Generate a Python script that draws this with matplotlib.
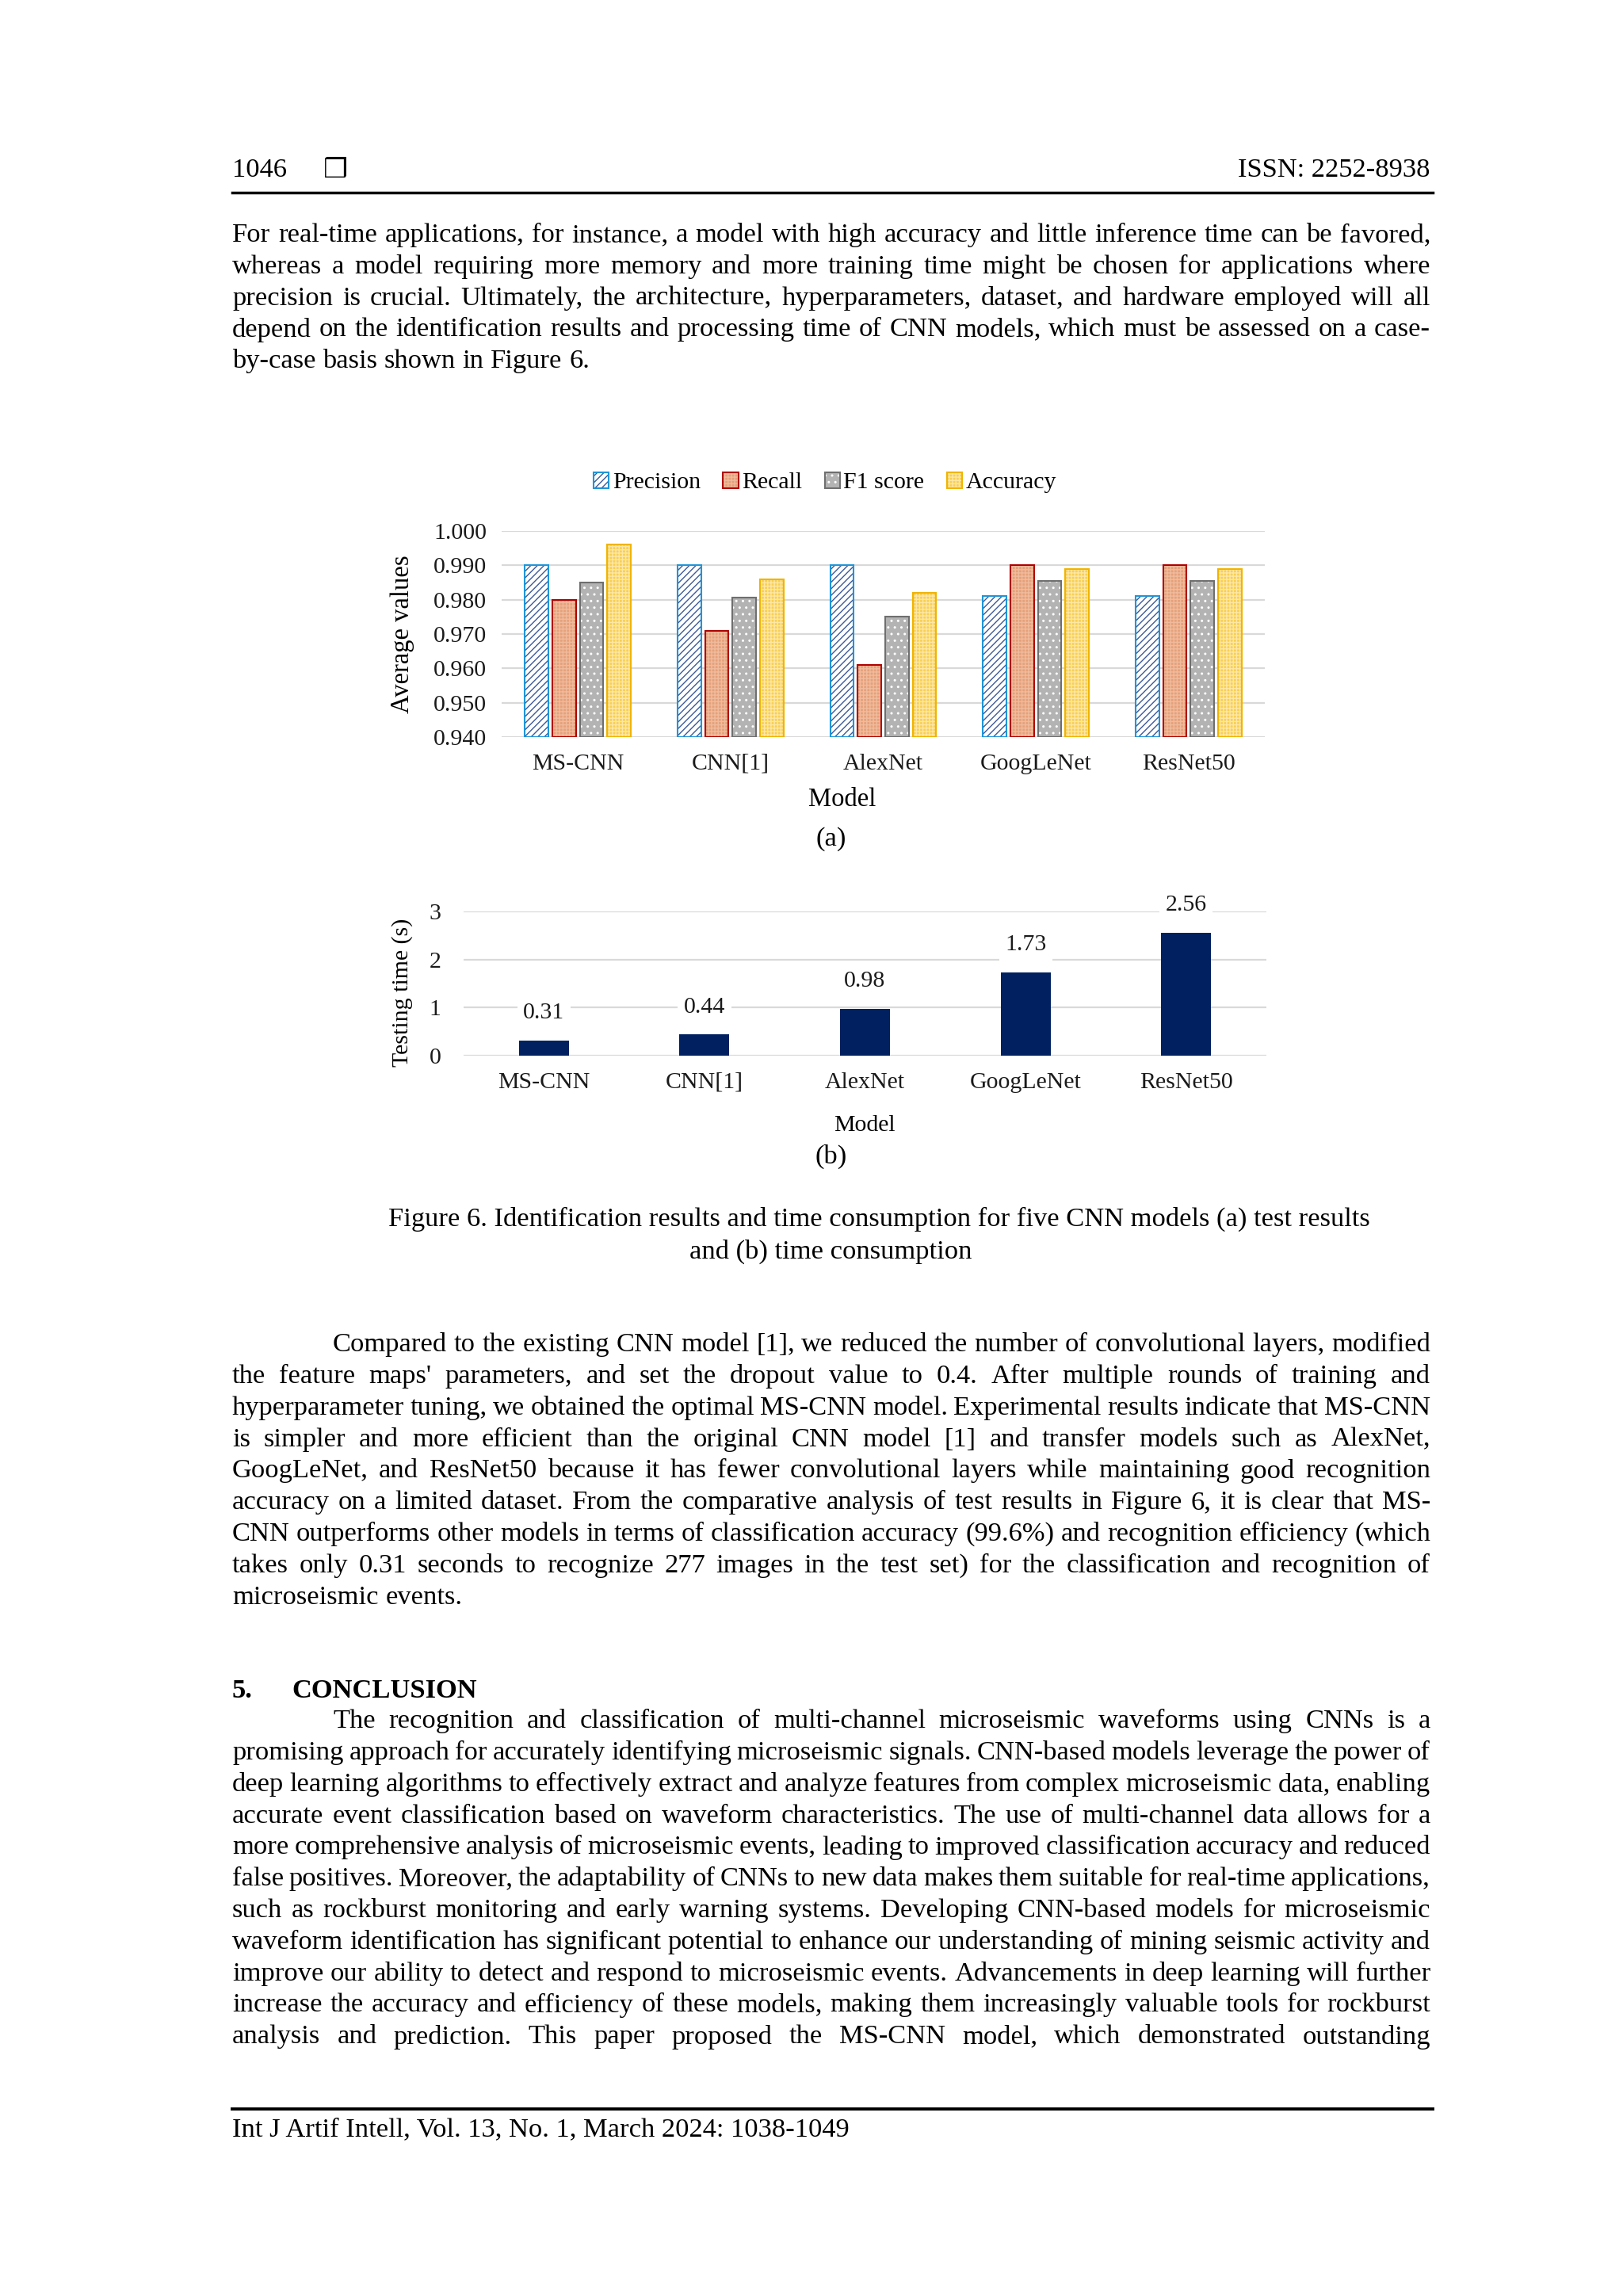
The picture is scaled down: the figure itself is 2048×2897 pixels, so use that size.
import matplotlib
matplotlib.use('Agg')
import matplotlib.pyplot as plt
from matplotlib.patches import Patch
from matplotlib.lines import Line2D
from matplotlib.legend_handler import HandlerTuple
from matplotlib.ticker import FormatStrFormatter
import numpy as np

# page size in pixels (saved at dpi 100)
W, H = 2048, 2897
SERIF = ['Liberation Serif', 'DejaVu Serif', 'DejaVu Sans']
BODY = 24.8
CHART = 21.5

# ---- chart data ----
models = ['MS-CNN', 'CNN[1]', 'AlexNet', 'GoogLeNet', 'ResNet50']
metric_names = ['Precision', 'Recall', 'F1 score', 'Accuracy']
precision = [0.990, 0.990, 0.990, 0.981, 0.981]
recall = [0.980, 0.971, 0.961, 0.990, 0.990]
f1_score = [0.985, 0.9805, 0.975, 0.9855, 0.9855]
accuracy = [0.996, 0.986, 0.982, 0.989, 0.989]
y_ticks_a = [0.940, 0.950, 0.960, 0.970, 0.980, 0.990, 1.000]

test_time = [0.31, 0.44, 0.98, 1.73, 2.56]
y_ticks_b = [0, 1, 2, 3]

# ---- page text ----
para1 = [
    "For real-time applications, for instance, a model with high accuracy and little inference time can be favored,",
    "whereas a model requiring more memory and more training time might be chosen for applications where",
    "precision is crucial. Ultimately, the architecture, hyperparameters, dataset, and hardware employed will all",
    "depend on the identification results and processing time of CNN models, which must be assessed on a case-",
    "by-case basis shown in Figure 6.",
]
para2 = [
    "Compared to the existing CNN model [1], we reduced the number of convolutional layers, modified",
    "the feature maps' parameters, and set the dropout value to 0.4. After multiple rounds of training and",
    "hyperparameter tuning, we obtained the optimal MS-CNN model. Experimental results indicate that MS-CNN",
    "is simpler and more efficient than the original CNN model [1] and transfer models such as AlexNet,",
    "GoogLeNet, and ResNet50 because it has fewer convolutional layers while maintaining good recognition",
    "accuracy on a limited dataset. From the comparative analysis of test results in Figure 6, it is clear that MS-",
    "CNN outperforms other models in terms of classification accuracy (99.6%) and recognition efficiency (which",
    "takes only 0.31 seconds to recognize 277 images in the test set) for the classification and recognition of",
    "microseismic events.",
]
para3 = [
    "The recognition and classification of multi-channel microseismic waveforms using CNNs is a",
    "promising approach for accurately identifying microseismic signals. CNN-based models leverage the power of",
    "deep learning algorithms to effectively extract and analyze features from complex microseismic data, enabling",
    "accurate event classification based on waveform characteristics. The use of multi-channel data allows for a",
    "more comprehensive analysis of microseismic events, leading to improved classification accuracy and reduced",
    "false positives. Moreover, the adaptability of CNNs to new data makes them suitable for real-time applications,",
    "such as rockburst monitoring and early warning systems. Developing CNN-based models for microseismic",
    "waveform identification has significant potential to enhance our understanding of mining seismic activity and",
    "improve our ability to detect and respond to microseismic events. Advancements in deep learning will further",
    "increase the accuracy and efficiency of these models, making them increasingly valuable tools for rockburst",
    "analysis and prediction. This paper proposed the MS-CNN model, which demonstrated outstanding",
]
caption = [
    "Figure 6. Identification results and time consumption for five CNN models (a) test results",
    "and (b) time consumption",
]

plt.rcParams['font.family'] = SERIF
plt.rcParams['hatch.linewidth'] = 1.0

fig = plt.figure(figsize=(W / 100, H / 100), dpi=100)
renderer = fig.canvas.get_renderer()

LEFT, RIGHT = 293, 1805


def fx(x):
    return x / W


def fy(y):
    return 1 - y / H


def axes_px(left, top, right, bottom):
    return fig.add_axes([left / W, 1 - bottom / H, (right - left) / W, (bottom - top) / H])


def text_width(s, size, weight='normal'):
    t = fig.text(0, 0, s, fontsize=size, family=SERIF, fontweight=weight)
    w = t.get_window_extent(renderer=renderer).width
    t.remove()
    return w


def draw_paragraph(lines, y0, step, indent=0, justify_last=False):
    # justified text: words placed one by one, gaps stretched to fill the line
    space = text_width("a a", BODY) - text_width("aa", BODY)
    for i, line in enumerate(lines):
        words = line.split(' ')
        x0 = LEFT + (indent if i == 0 else 0)
        widths = [text_width(w, BODY) for w in words]
        last = (i == len(lines) - 1)
        if (not last or justify_last) and len(words) > 1:
            gap = (RIGHT - x0 - sum(widths)) / (len(words) - 1)
        else:
            gap = space
        x = x0
        y = y0 + i * step
        for w, wd in zip(words, widths):
            fig.text(fx(x), fy(y), w, fontsize=BODY, ha='left', va='center')
            x += wd + gap


# ---- header / footer ----
fig.text(fx(LEFT), fy(215), "1046", fontsize=BODY, ha='left', va='center')
fig.text(fx(423), fy(215), "\u2752", fontsize=BODY, ha='center', va='center',
         family=['DejaVu Sans'], fontweight='bold')
fig.text(fx(RIGHT), fy(215), "ISSN: 2252-8938", fontsize=BODY, ha='right', va='center')
fig.add_artist(Line2D([fx(LEFT), fx(1808)], [fy(243), fy(243)], color='black', lw=2.5))

fig.add_artist(Line2D([fx(LEFT), fx(1808)], [fy(2661), fy(2661)], color='black', lw=2.8))
fig.text(fx(LEFT), fy(2687), "Int J Artif Intell, Vol. 13, No. 1, March 2024: 1038-1049",
         fontsize=BODY, ha='left', va='center')

# ---- body text ----
draw_paragraph(para1, 297, 39.7)
draw_paragraph(para2, 1697, 39.8, indent=127)
fig.text(fx(LEFT), fy(2133), "5.", fontsize=BODY, fontweight='bold', ha='left', va='center')
fig.text(fx(368), fy(2133), "CONCLUSION", fontsize=BODY, fontweight='bold', ha='left', va='center')
draw_paragraph(para3, 2172, 39.8, indent=127, justify_last=True)

fig.text(fx(1109), fy(1538), caption[0], fontsize=BODY, ha='center', va='center')
fig.text(fx(1048), fy(1579), caption[1], fontsize=BODY, ha='center', va='center')

# ---- chart (a): test results ----
styles = [
    dict(face='white', hatch='////', hcol='#3d5a98', edge='#1e96d8'),
    dict(face='#e6a07a', hatch='++++', hcol='#efbb9c', edge='#b00000'),
    dict(face='#b3b3b3', hatch='..', hcol='white', edge='#6f6f6f'),
    dict(face='#f8cf55', hatch='++++', hcol='#fde7a4', edge='#f0b400'),
]
series = [precision, recall, f1_score, accuracy]

ax1 = axes_px(633, 670, 1596, 930)
x = np.arange(len(models))
base = y_ticks_a[0]
step = 0.18
bw = 0.154
handles = []
for i, (vals, st) in enumerate(zip(series, styles)):
    off = (i - 1.5) * step
    h = np.array(vals) - base
    ax1.bar(x + off, h, bw, bottom=base, color=st['face'], hatch=st['hatch'],
            edgecolor=st['hcol'], linewidth=0, zorder=2)
    ax1.bar(x + off, h, bw, bottom=base, fill=False, edgecolor=st['edge'],
            linewidth=1.5, zorder=3)
    handles.append((Patch(facecolor=st['face'], hatch=st['hatch'], edgecolor=st['hcol'], linewidth=0),
                    Patch(fill=False, edgecolor=st['edge'], linewidth=1.5)))

ax1.set_xlim(-0.5, len(models) - 0.5)
ax1.set_ylim(y_ticks_a[0], y_ticks_a[-1])
ax1.set_yticks(y_ticks_a)
ax1.yaxis.set_major_formatter(FormatStrFormatter('%.3f'))
ax1.set_xticks(x, models)
ax1.tick_params(axis='y', length=0, labelsize=CHART, pad=13.5, labelcolor='#1a1a1a')
ax1.tick_params(axis='x', length=0, labelsize=CHART, pad=15, labelcolor='#1a1a1a')
for s in ax1.spines.values():
    s.set_visible(False)
ax1.grid(axis='y', color='#d9d9d9', linewidth=1.6)
ax1.set_axisbelow(True)

fig.legend(handles, metric_names, loc='center', bbox_to_anchor=(fx(1041), fy(609)),
           ncol=4, frameon=False, fontsize=CHART, handlelength=0.65, handleheight=0.65,
           handletextpad=0.15, columnspacing=0.95,
           handler_map={tuple: HandlerTuple(ndivide=1)})

fig.text(fx(508), fy(800), "Average values", rotation=90, fontsize=23.5, ha='center', va='center')
fig.text(fx(1063), fy(1009), "Model", fontsize=23.5, ha='center', va='center')
fig.text(fx(1049), fy(1059), "(a)", fontsize=BODY, ha='center', va='center')

# ---- chart (b): time consumption ----
ax2 = axes_px(585, 1150, 1598, 1332)
ax2.bar(x, test_time, 0.31, color='#002060', zorder=2)
for xi, v in zip(x, test_time):
    ax2.annotate(f"{v:.2f}", (xi, v), xytext=(0, 25), textcoords='offset points',
                 ha='center', va='center', fontsize=CHART, color='#1a1a1a',
                 bbox=dict(boxstyle='square,pad=0.25', fc='white', ec='none'), zorder=4)
ax2.set_xlim(-0.5, len(models) - 0.5)
ax2.set_ylim(y_ticks_b[0], y_ticks_b[-1])
ax2.set_yticks(y_ticks_b)
ax2.set_xticks(x, models)
ax2.tick_params(axis='y', length=0, labelsize=CHART, pad=20.5, labelcolor='#1a1a1a')
ax2.tick_params(axis='x', length=0, labelsize=CHART, pad=15, labelcolor='#1a1a1a')
for s in ax2.spines.values():
    s.set_visible(False)
ax2.grid(axis='y', color='#d9d9d9', linewidth=1.6)
ax2.set_axisbelow(True)

fig.text(fx(508), fy(1252), "Testing time (s)", rotation=90, fontsize=CHART, ha='center', va='center')
fig.text(fx(1091), fy(1420), "Model", fontsize=CHART, ha='center', va='center')
fig.text(fx(1049), fy(1459), "(b)", fontsize=BODY, ha='center', va='center')

fig.savefig('out.png', dpi=100, facecolor='white')
